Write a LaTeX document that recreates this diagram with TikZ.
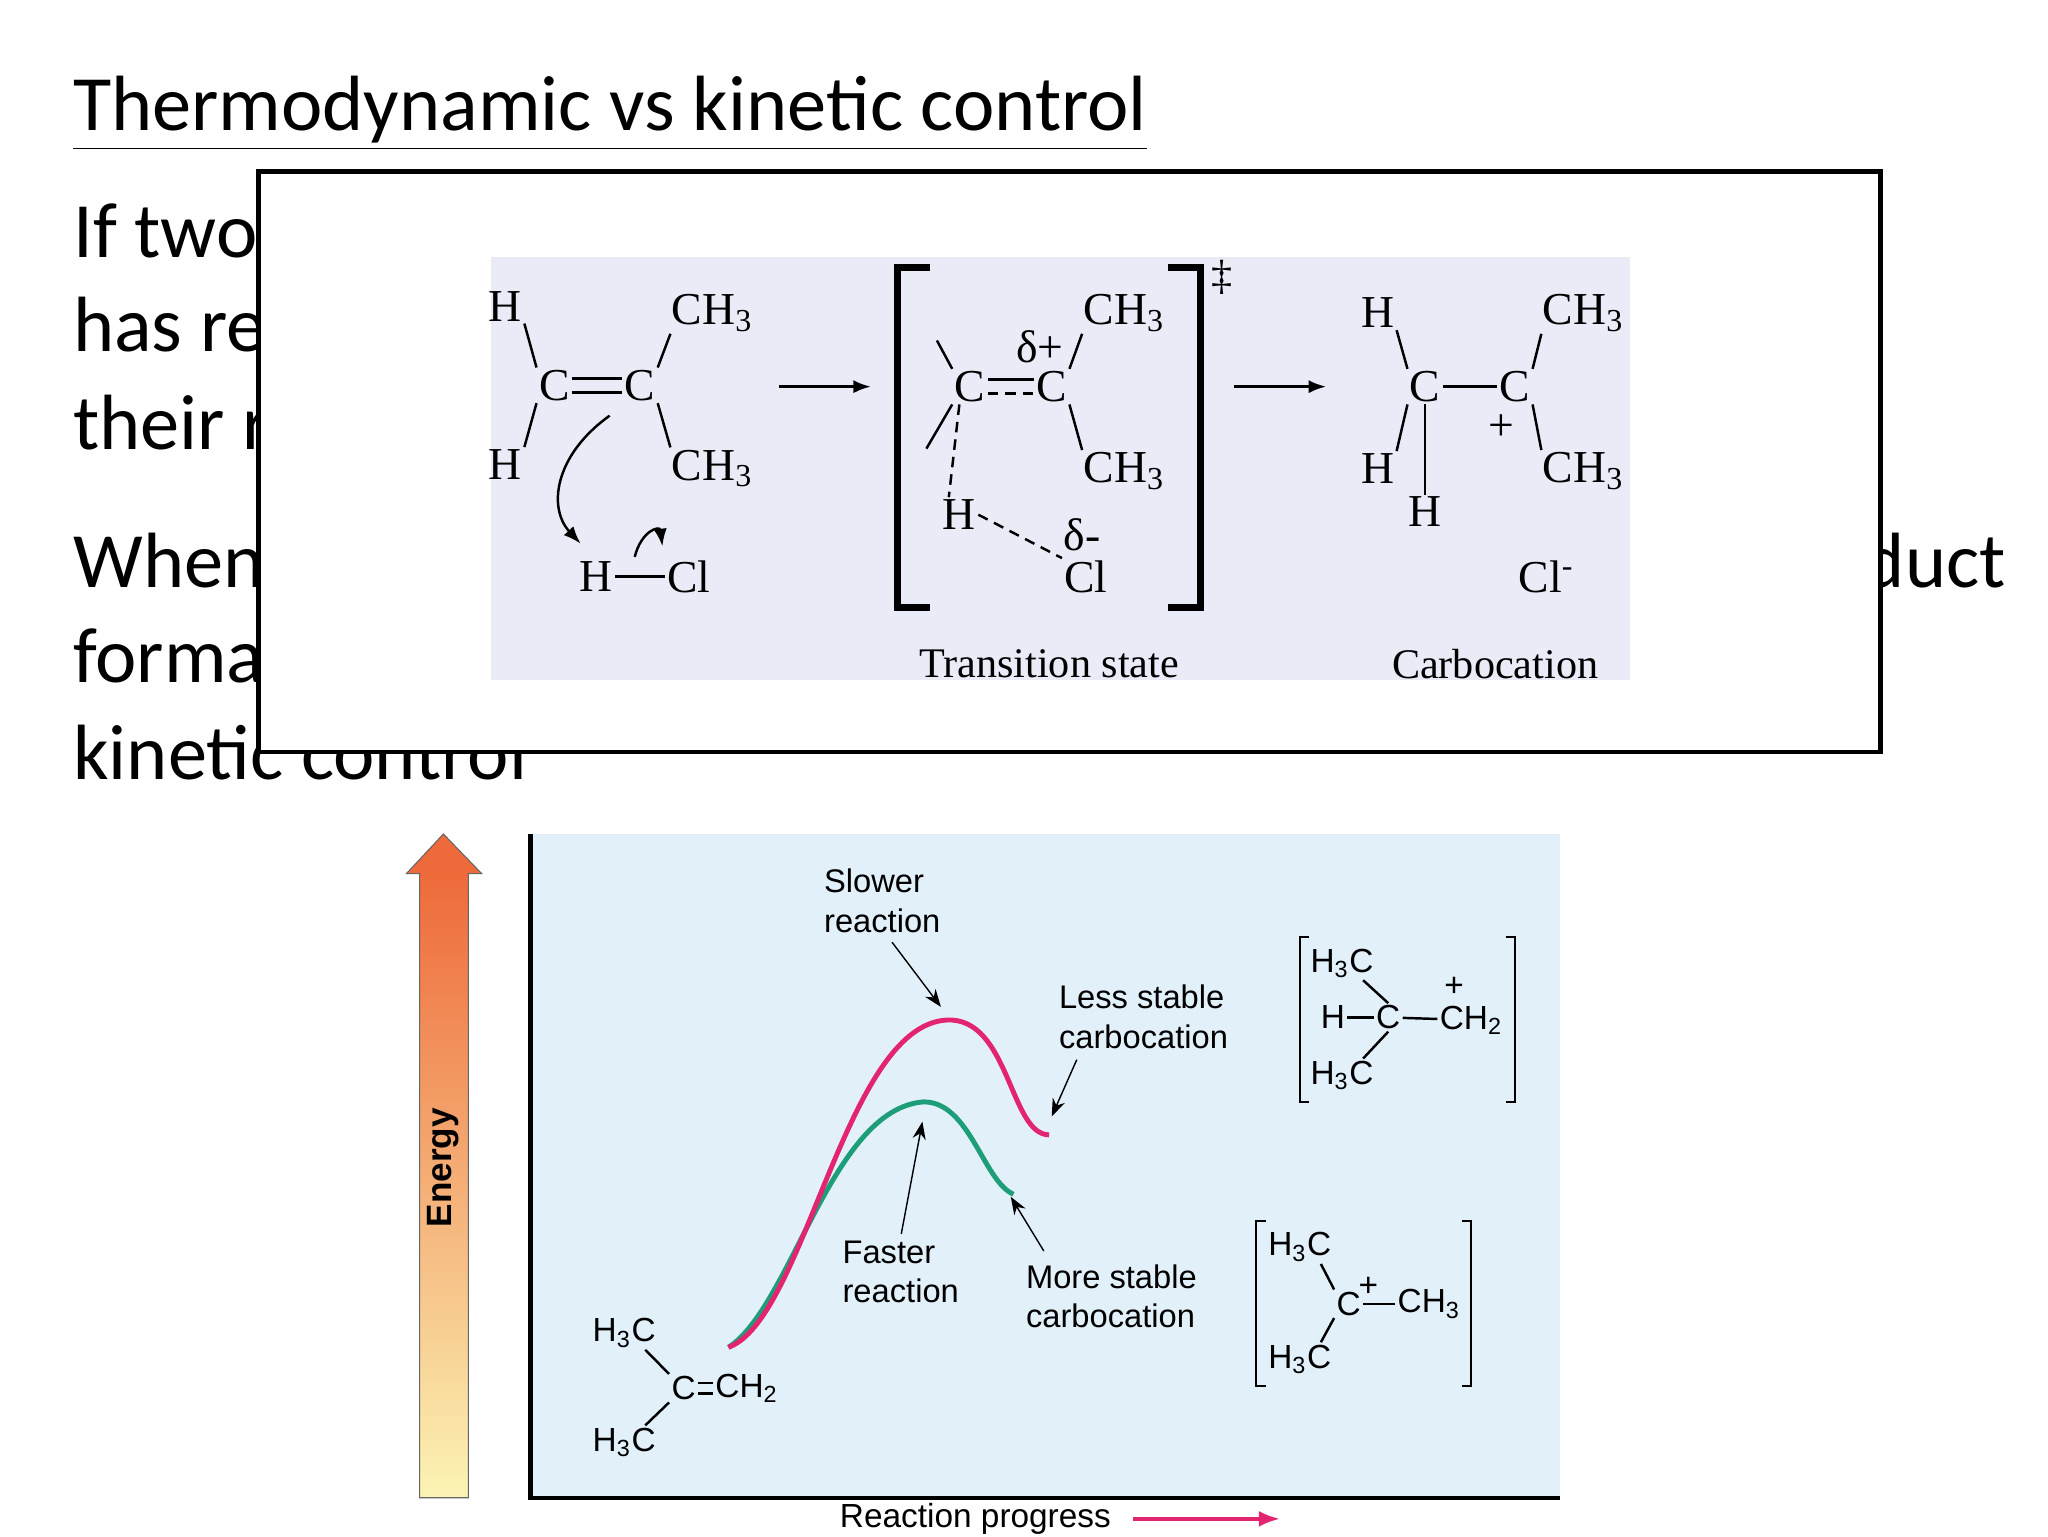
\documentclass[tikz,border=0pt]{standalone}
\usepackage{fontspec}
\setmainfont{Carlito}
\newfontfamily\chemfont{Liberation Serif}
\newfontfamily\helv{Liberation Sans}
\usetikzlibrary{arrows.meta}
\definecolor{panelA}{HTML}{E9ECF6}
\definecolor{panelB}{HTML}{E2F0FA}
\definecolor{pinkc}{HTML}{E2256E}
\definecolor{greenc}{HTML}{1E9E78}
\definecolor{topor}{HTML}{EE6A3A}
\definecolor{botyl}{HTML}{FBF4B4}
\newcommand{\sbs}[1]{\textsubscript{#1}}
\tikzset{
 slide/.style={font=\fontsize{22.3}{26}\selectfont,anchor=west,inner sep=0},
 at1/.style={font=\chemfont\fontsize{13}{15}\selectfont,inner sep=0.5},
 lab1/.style={font=\chemfont\fontsize{12}{14}\selectfont,inner sep=0},
 bd/.style={line width=0.7pt},
 sf/.style={font=\helv\fontsize{9.5}{11.4}\selectfont,inner sep=0.5},
 lab2/.style={font=\helv\fontsize{9.3}{11.2}\selectfont,align=left,anchor=north west,inner sep=0},
 thin/.style={line width=0.4pt,-{Stealth[length=5pt]}},
 rx/.style={line width=0.8pt,-{Latex[length=5pt]}}
}
\begin{document}
\begin{tikzpicture}[x=0.013196cm,y=-0.013196cm]
\useasboundingbox (0,0) rectangle (1552,1164);
% slide text
\node[slide] (title) at (55,86) {\underline{Thermodynamic vs kinetic control}};
\node[slide] (l1) at (55,175) {If two};
\node[slide] (l2) at (55,246) {has re};
\node[slide] (l3) at (55,320) {their r};
\node[slide] (l4) at (55,425) {When};
\node[slide] (l4b) at (1412,425) {duct};
\node[slide] (l5) at (55,497) {forma};
\node[slide] (l6) at (55,570) {kinetic control};
% boxed top figure
\draw[line width=1.3pt,fill=white] (196,130) rectangle (1425,570);
\fill[panelA] (372,195) rectangle (1235,515);
% alkene
\node[at1] (aH1) at (383,232) {H};
\node[at1] (aH2) at (383,352) {H};
\node[at1] (aC1) at (420,292) {C};
\node[at1] (aC2) at (485,292) {C};
\node[at1] (aM1) at (540,237) {CH\sbs{3}};
\node[at1] (aM2) at (540,355) {CH\sbs{3}};
\draw[bd] (aH1.south east) -- (aC1.north west);
\draw[bd] (aH2.north east) -- (aC1.south west);
\draw[bd] ([yshift=-2]aC1.east) -- ([yshift=-2]aC2.west);
\draw[bd] ([yshift=2]aC1.east) -- ([yshift=2]aC2.west);
\draw[bd] (aC2.north east) -- ([xshift=-12]aM1.south);
\draw[bd] (aC2.south east) -- ([xshift=-12]aM2.north);
\node[at1] (hH) at (452,437) {H};
\node[at1] (hCl) at (522,437) {Cl};
\draw[bd] (hH) -- (hCl);
\coordinate (c1) at (462,315);
\coordinate (c2) at (440,412);
\draw[bd,-{Latex[length=5pt]}] (c1) .. controls (420,345) and (415,385) .. (c2);
\coordinate (c3) at (481,422);
\coordinate (c4) at (502,414);
\draw[bd,-{Latex[length=5pt]}] (c3) .. controls (486,402) and (500,398) .. (c4);
\coordinate (r1s) at (590,293); \coordinate (r1e) at (660,293);
\draw[rx] (r1s) -- (r1e);
% transition state
\draw[line width=2pt] (705,203) -- (680,203) -- (680,460) -- (705,460);
\draw[line width=2pt] (885,203) -- (910,203) -- (910,460) -- (885,460);
\node[lab1] (dag) at (926,210) {‡};
\node[at1] (tC1) at (735,293) {C};
\node[at1] (tC2) at (797,293) {C};
\node[at1] (tM1) at (852,237) {CH\sbs{3}};
\node[at1] (tM2) at (852,357) {CH\sbs{3}};
\node[at1] (tdp) at (788,263) {δ+};
\node[at1] (tH) at (727,390) {H};
\node[at1] (tdm) at (820,405) {δ-};
\node[at1] (tCl) at (823,437) {Cl};
\draw[bd] ([yshift=2]tC1.east) -- ([yshift=2]tC2.west);
\draw[bd,dashed,dash pattern=on 3pt off 2pt] ([yshift=-2]tC1.east) -- ([yshift=-2]tC2.west);
\draw[bd] (710,258) -- (tC1.north west);
\draw[bd] (tC1.south west) -- (702,340);
\draw[bd] (tC2.north east) -- ([xshift=-12]tM1.south);
\draw[bd] (tC2.south east) -- ([xshift=-12]tM2.north);
\draw[bd,dashed,dash pattern=on 3pt off 2pt] ([xshift=-3]tC1.south) -- ([xshift=-3]tH.north);
\draw[bd,dashed,dash pattern=on 3pt off 2pt] (tH.east) -- (tCl.north west);
\node[lab1] (tslab) at (795,503) {Transition state};
\coordinate (r2s) at (935,293); \coordinate (r2e) at (1005,293);
\draw[rx] (r2s) -- (r2e);
% carbocation
\node[at1] (kH1) at (1044,237) {H};
\node[at1] (kH2) at (1044,355) {H};
\node[at1] (kH3) at (1080,388) {H};
\node[at1] (kC1) at (1080,293) {C};
\node[at1] (kC2) at (1148,293) {C};
\node[at1] (kM1) at (1200,237) {CH\sbs{3}};
\node[at1] (kM2) at (1200,357) {CH\sbs{3}};
\node[at1] (kp) at (1138,324) {+};
\node[at1] (kCl) at (1172,437) {Cl\textsuperscript{-}};
\draw[bd] (kH1.south east) -- (kC1.north west);
\draw[bd] (kH2.north east) -- (kC1.south west);
\draw[bd] (kC1.south) -- (kH3.north);
\draw[bd] (kC1) -- (kC2);
\draw[bd] (kC2.north east) -- ([xshift=-12]kM1.south);
\draw[bd] (kC2.south east) -- ([xshift=-12]kM2.north);
\node[lab1] (cclab) at (1133,503) {Carbocation};
% lower figure
\fill[panelB] (402,632) rectangle (1182,1135);
\draw[line width=1.2pt] (402,632) -- (402,1135) -- (1182,1135);
\shade[bottom color=botyl,top color=topor] (318,1135) rectangle (355,662);
\fill[topor] (308,662) -- (365,662) -- (336,632) -- cycle;
\draw[black!60,line width=0.3pt] (318,1135) -- (318,662) -- (308,662) -- (336,632) -- (365,662) -- (355,662) -- (355,1135) -- cycle;
\node[font=\helv\bfseries\fontsize{10}{12}\selectfont,rotate=90] (energy) at (336,885) {Energy};
\node[font=\helv\fontsize{9.5}{11}\selectfont,anchor=west,inner sep=0] (rp) at (636,1151) {Reaction progress};
\coordinate (rpe) at (970,1151);
\draw[pinkc,line width=1pt,-{Latex[length=6pt]}] ([xshift=6]rp.east) -- (rpe);
% curves
\coordinate (start) at (552,1021);
\coordinate (pinkend) at (795,860);
\coordinate (greenend) at (768,905);
\draw[greenc,line width=1.4pt] (start) .. controls (600,990) and (630,840) .. (700,835) .. controls (735,835) and (745,895) .. (greenend);
\draw[pinkc,line width=1.4pt] (start) .. controls (610,1000) and (640,778) .. (717,773) .. controls (765,770) and (765,860) .. (pinkend);
% labels
\node[lab2] (slow) at (624,658) {Slower\\reaction};
\node[lab2] (less) at (802,746) {Less stable\\carbocation};
\node[lab2] (fast) at (638,940) {Faster\\reaction};
\node[lab2] (more) at (777,958) {More stable\\carbocation};
\coordinate (pk1) at (713,763);
\coordinate (pk2) at (797,846);
\coordinate (pk3) at (699,850);
\coordinate (pk4) at (766,907);
\draw[thin] (676,714) -- (pk1);
\draw[thin] (816,803) -- (pk2);
\draw[thin] (683,935) -- (pk3);
\draw[thin] (791,948) -- (pk4);
% alkene bottom
\node[sf] (bM1) at (473,1010) {H\sbs{3}C};
\node[sf] (bM2) at (473,1093) {H\sbs{3}C};
\node[sf] (bC) at (518,1052) {C};
\node[sf] (bCH2) at (566,1052) {CH\sbs{2}};
\draw[bd] ([xshift=6]bM1.south) -- (bC.north west);
\draw[bd] ([xshift=6]bM2.north) -- (bC.south west);
\draw[bd] ([yshift=-1.5]bC.east) -- ([yshift=-1.5]bCH2.west);
\draw[bd] ([yshift=1.5]bC.east) -- ([yshift=1.5]bCH2.west);
% upper cation
\draw[line width=0.6pt] (992,710) -- (985,710) -- (985,835) -- (992,835);
\draw[line width=0.6pt] (1141,710) -- (1148,710) -- (1148,835) -- (1141,835);
\node[sf] (uM1) at (1017,730) {H\sbs{3}C};
\node[sf] (uM2) at (1017,815) {H\sbs{3}C};
\node[sf] (uH) at (1010,771) {H};
\node[sf] (uC) at (1052,771) {C};
\node[sf] (uCH2) at (1115,773) {CH\sbs{2}};
\node[sf] (up) at (1102,748) {+};
\draw[bd] ([xshift=6]uM1.south) -- (uC.north);
\draw[bd] ([xshift=6]uM2.north) -- (uC.south);
\draw[bd] (uH) -- (uC);
\draw[bd] (uC) -- (uCH2);
% lower cation
\draw[line width=0.6pt] (959,925) -- (952,925) -- (952,1050) -- (959,1050);
\draw[line width=0.6pt] (1108,925) -- (1115,925) -- (1115,1050) -- (1108,1050);
\node[sf] (wM1) at (985,945) {H\sbs{3}C};
\node[sf] (wM2) at (985,1030) {H\sbs{3}C};
\node[sf] (wC) at (1022,988) {C};
\node[sf] (wp) at (1037,975) {+};
\node[sf] (wM3) at (1083,988) {CH\sbs{3}};
\draw[bd] ([xshift=6]wM1.south) -- (wC.north west);
\draw[bd] ([xshift=6]wM2.north) -- (wC.south west);
\draw[bd] (wC) -- (wM3);
\end{tikzpicture}
\end{document}
